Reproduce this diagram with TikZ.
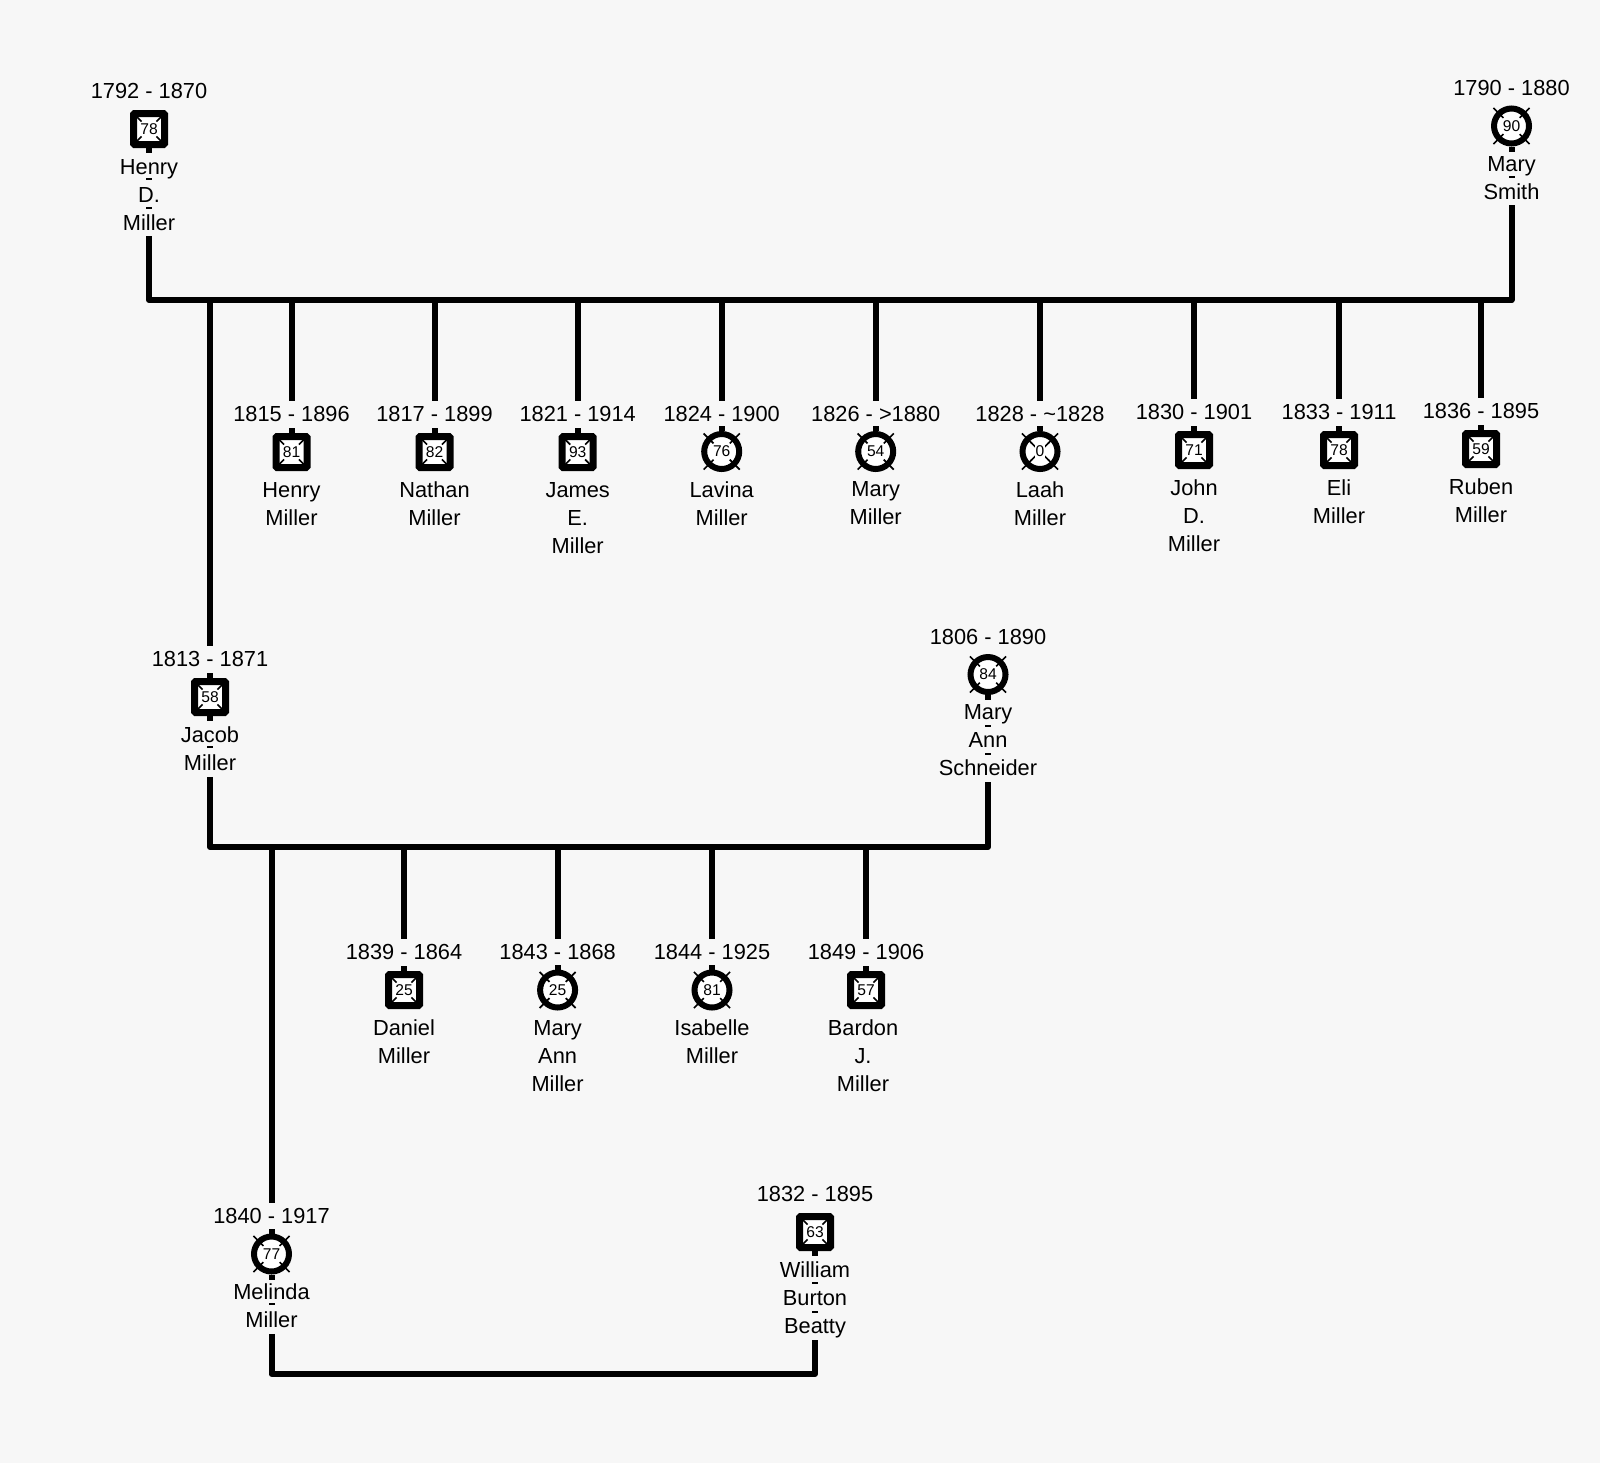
\documentclass[tikz,border=0pt]{standalone}
\usepackage{fontspec}
\setmainfont{Liberation Sans}
\definecolor{paper}{HTML}{F7F7F7}
\tikzset{
	man/.style={draw,rectangle,fill=white,line width=3.5pt,minimum size=15.5pt,inner sep=0pt,rounded corners=0.5pt,font=\fontsize{7.8}{9}\selectfont},
	woman/.style={draw,circle,fill=white,line width=3pt,minimum size=17.5pt,inner sep=0pt,font=\fontsize{7.8}{9}\selectfont},
	agetext/.style={fill=white,inner sep=0.4pt,font=\fontsize{7.8}{9}\selectfont},
	datetext/.style={inner sep=0pt,outer sep=2.5pt,font=\fontsize{10.9}{14}\selectfont},
	nametext/.style={anchor=north,align=center,inner sep=0pt,outer sep=3pt,text depth=0pt,font=\fontsize{10.9}{14}\selectfont},
	kin/.style={line width=3pt,line join=round},
	tickmark/.style={line width=0.85pt},
}
\def\startman{10.5}
\def\tipman{7.5}
\def\startwoman{11.5}
\def\tipwoman{14}
\newcommand{\person}[8][0]{%
	\node[#5,name=#2] at (#3,#4) {#6};
	\foreach \a in {45,135,225,315}
		\draw[tickmark] (#2.center) ++(\a:\csname start#5\endcsname) -- ++(\a:\csname tip#5\endcsname);
	\node[datetext,name=#2-date] at (#3,#4-38) {#7};
	\node[nametext,name=#2-name] at (#3+#1,#4+24) {#8};
}
\begin{document}
\begin{tikzpicture}[x=0.5pt,y=-0.5pt]
	\fill[paper] (0,0) rectangle (1600,1463);
	% first family
	\person{henryd}{149}{129}{man}{78}{1792 - 1870}{Henry\\D.\\Miller}
	\person{marysmith}{1511.5}{126}{woman}{90}{1790 - 1880}{Mary\\Smith}
	\person{henry}{291.5}{452}{man}{81}{1815 - 1896}{Henry\\Miller}
	\person{nathan}{434.5}{452}{man}{82}{1817 - 1899}{Nathan\\Miller}
	\person{james}{577.7}{452}{man}{93}{1821 - 1914}{James\\E.\\Miller}
	\person{lavina}{721.7}{451.5}{woman}{76}{1824 - 1900}{Lavina\\Miller}
	\person{marym}{875.7}{451.5}{woman}{54}{1826 - >1880}{Mary\\Miller}
	\person{laah}{1040}{451.5}{woman}{}{1828 - \textasciitilde1828}{Laah\\Miller}
	\person{john}{1194}{450}{man}{71}{1830 - 1901}{John\\D.\\Miller}
	\person{eli}{1339}{450}{man}{78}{1833 - 1911}{Eli\\Miller}
	\person{ruben}{1481}{449}{man}{59}{1836 - 1895}{Ruben\\Miller}
	% second family
	\person{jacob}{210}{697}{man}{58}{1813 - 1871}{Jacob\\Miller}
	\person{schneider}{988}{674.5}{woman}{84}{1806 - 1890}{Mary\\Ann\\Schneider}
	\person{daniel}{404}{990}{man}{25}{1839 - 1864}{Daniel\\Miller}
	\person{maryann}{557.6}{990}{woman}{25}{1843 - 1868}{Mary\\Ann\\Miller}
	\person{isabelle}{712}{990}{woman}{81}{1844 - 1925}{Isabelle\\Miller}
	\person[-3]{bardon}{866}{990}{man}{57}{1849 - 1906}{Bardon\\J.\\Miller}
	% third family
	\person{melinda}{271.5}{1254}{woman}{77}{1840 - 1917}{Melinda\\Miller}
	\person{william}{815}{1232}{man}{63}{1832 - 1895}{William\\Burton\\Beatty}
	\draw[tickmark] (laah.center) ++(45:13) -- ++(225:26);
	\draw[tickmark] (laah.center) ++(135:13) -- ++(315:26);
	\node[agetext] (laah-age) at (laah.center) {0};
	% stems on the symbols
	\foreach \id in {jacob,melinda,henry,nathan,james,lavina,marym,laah,john,eli,ruben,daniel,maryann,isabelle,bardon}
		\draw[kin] (\id.north) -- ++(0,-5);
	\foreach \id in {henryd,marysmith,jacob,schneider,melinda,william}
		\draw[kin] (\id.south) -- ++(0,5);
	% bits of line between the name rows
	\foreach \id/\y in {henryd/178,henryd/207,marysmith/176,jacob/746,schneider/725,schneider/753,melinda/1303,william/1282,william/1311}
		\draw[kin] (\id |- 0,\y) -- ++(0,2);
	% couples and children
	\coordinate (barone) at (0,300);
	\coordinate (bartwo) at (0,847);
	\coordinate (barthree) at (0,1374);
	\draw[kin] (henryd-name.south) |- (barone -| marysmith) -- (marysmith-name.south);
	\draw[kin] (jacob-name.south) |- (bartwo -| schneider) -- (schneider-name.south);
	\draw[kin] (melinda-name.south) |- (barthree -| william) -- (william-name.south);
	\foreach \id in {jacob,henry,nathan,james,lavina,marym,laah,john,eli,ruben}
		\draw[kin] (barone -| \id) -- (\id |- \id-date.north);
	\foreach \id in {melinda,daniel,maryann,isabelle,bardon}
		\draw[kin] (bartwo -| \id) -- (\id |- \id-date.north);
\end{tikzpicture}
\end{document}
